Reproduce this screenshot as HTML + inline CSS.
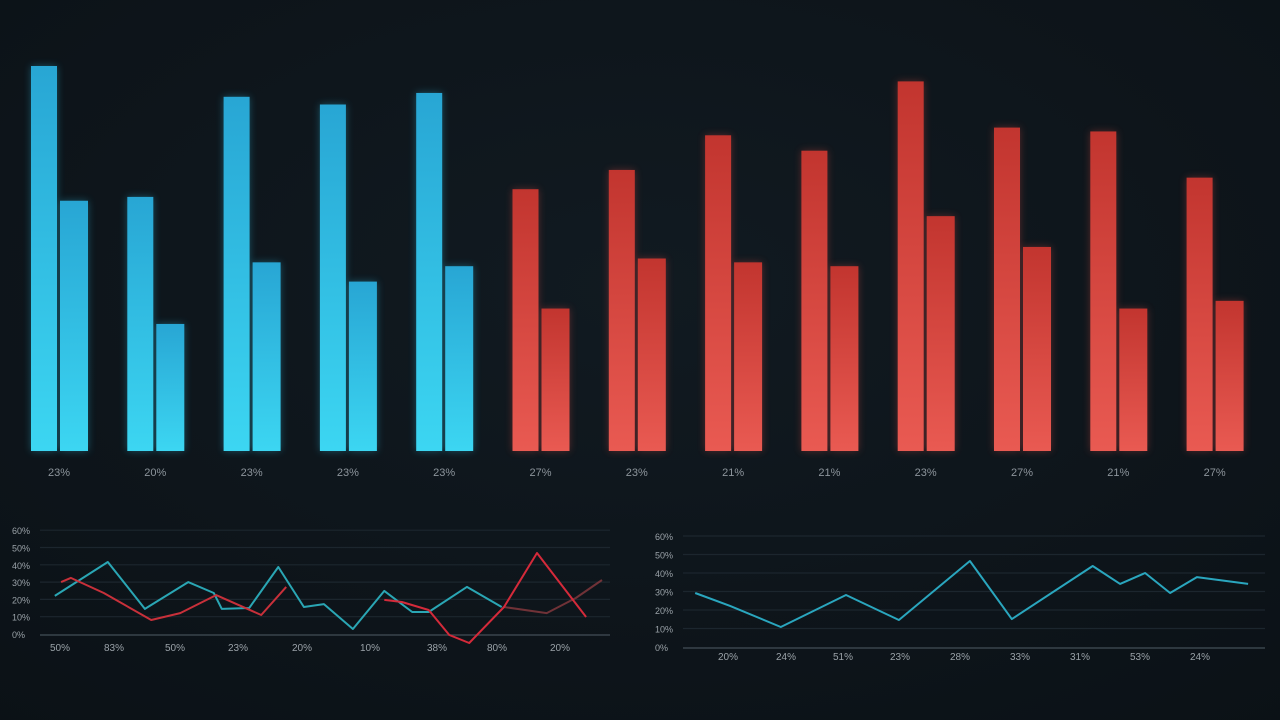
<!DOCTYPE html>
<html><head><meta charset="utf-8">
<style>
html,body{margin:0;padding:0;background:#0d141a;}
svg{display:block;font-family:"Liberation Sans",sans-serif;}
</style></head>
<body>
<svg id="c" width="1280" height="720" viewBox="0 0 1280 720" xmlns="http://www.w3.org/2000/svg">
<defs>
<linearGradient id="gb" x1="0" y1="0" x2="0" y2="1"><stop offset="0" stop-color="#28a6d4"/><stop offset="1" stop-color="#3cd6f2"/></linearGradient>
<linearGradient id="gr" x1="0" y1="0" x2="0" y2="1"><stop offset="0" stop-color="#c2352f"/><stop offset="1" stop-color="#e95a52"/></linearGradient>
<radialGradient id="bg" cx="0.5" cy="0.4" r="0.8"><stop offset="0" stop-color="#111a21"/><stop offset="1" stop-color="#0b1116"/></radialGradient>
<filter id="glow" x="-30%" y="-10%" width="160%" height="120%"><feGaussianBlur stdDeviation="4"/></filter>
</defs>
<rect width="1280" height="720" fill="url(#bg)"/>
<g id="bars"></g>
<g id="left"></g>
<g id="right"></g>
</svg>
<script>
// Bar chart data
const barGroups = ['23%','20%','23%','23%','23%','27%','23%','21%','21%','23%','27%','21%','27%'];
const barTall = [100,66,92,90,93,68,73,82,78,96,84,83,71];
const barShort = [65,33,49,44,48,37,50,49,48,61,53,37,39];
const barColorSplit = 5;
// Left line chart data
const leftYTicks = ['0%','10%','20%','30%','40%','50%','60%'];
const leftXLabels = ['50%','83%','50%','23%','20%','10%','38%','80%','20%'];
const tealX = [2.6,11.9,18.4,26,30.5,31.9,36.7,41.8,46.3,49.8,54.9,60.4,65.3,68.2,74.9,81];
const tealV = [22,41.6,14.5,30,23.7,14.5,15,38.7,15.6,17.3,2.9,24.9,12.7,12.7,27.2,15.6];
const red1X = [3.7,5.4,11.2,19.5,24.6,30.9,38.8,43.2];
const red1V = [30,32.4,23.7,8.1,12.1,22.5,11,27.2];
const red2X = [60.4,63.5,68.2,71.8,75.3,81.4,87.2,95.8];
const red2V = [19.7,18.5,13.9,-0.6,-5.2,15.6,46.8,9.8];
const red3X = [81.4,88.9,94,98.6];
const red3V = [15.6,12.1,20.8,31.2];
// Right line chart data
const rightYTicks = ['0%','10%','20%','30%','40%','50%','60%'];
const rightXLabels = ['20%','24%','51%','23%','28%','33%','31%','53%','24%'];
const rightX = [2.1,8.1,16.8,28,37.1,49.3,56.5,70.4,75.1,79.4,83.7,88.3,97.1];
const rightV = [29.2,22.2,10.8,28.1,14.6,46.5,15.1,43.8,34.1,40,29.2,37.8,34.1];

const NS='http://www.w3.org/2000/svg';
function mk(tag,attrs,parent){const e=document.createElementNS(NS,tag);for(const k in attrs)e.setAttribute(k,attrs[k]);parent.appendChild(e);return e;}

// Bars
const bars=document.getElementById('bars');
const base=451, hScale=v=>v*3.85, gx=i=>31+i*96.3;
barGroups.forEach((lab,i)=>{
  const x=gx(i), blue=i<barColorSplit, f=blue?'url(#gb)':'url(#gr)', gc=blue?'#2ec4ea':'#e04a42';
  const h1=hScale(barTall[i]), h2=hScale(barShort[i]);
  const g1=mk('rect',{x:x,y:base-h1,width:26,height:h1,fill:gc,opacity:0.35,filter:'url(#glow)'},bars);
  
  
  const g2=mk('rect',{x:x+29,y:base-h2,width:28,height:h2,fill:gc,opacity:0.35,filter:'url(#glow)'},bars);
  
  
  const r1=mk('rect',{x:x,y:base-h1,width:26,height:h1,fill:f},bars);
  
  
  const r2=mk('rect',{x:x+29,y:base-h2,width:28,height:h2,fill:f},bars);
  
  
  const t=mk('text',{x:x+28,y:476,'text-anchor':'middle','font-size':11,fill:'#8d959c'},bars);
  t.textContent=lab;
  
  
});

function lineChart(gid,x0,x1,y0,pxPer10,yTicks,xLabels,labX,labY,series,tickX){
  const g=document.getElementById(gid);
  const sx=d=>x0+(x1-x0)*d/100, sy=v=>y0-v*pxPer10/10;
  yTicks.forEach((t,i)=>{
    const y=sy(i*10);
    if(i>0){const l=mk('line',{x1:x0,x2:x1,y1:y,y2:y,stroke:'#1c262e','stroke-width':1.2},g);
    
    }
    const tx=mk('text',{x:tickX,y:y+4,'font-size':9,fill:'#9aa2a8'},g);
    tx.textContent=t;
    
    
  });
  const ax=mk('line',{x1:x0,x2:x1,y1:y0+1,y2:y0+1,stroke:'#3a444c','stroke-width':1.5},g);
  
  
  xLabels.forEach((t,i)=>{
    const tx=mk('text',{x:labX[i],y:labY,'text-anchor':'middle','font-size':10,fill:'#9aa2a8'},g);
    tx.textContent=t;
    
    
  });
  series.forEach(s=>{
    const pts=s.x.map((d,i)=>sx(d).toFixed(1)+','+sy(s.v[i]).toFixed(1)).join(' ');
    const p=mk('polyline',{points:pts,fill:'none',stroke:s.c,'stroke-width':2,'stroke-linejoin':'round',opacity:s.o||1},g);
    
    
  });
}
lineChart('left',40,610,634,17.3,leftYTicks,leftXLabels,[60,114,175,238,302,370,437,497,560],651,
 [{x:red3X,v:red3V,c:'#8a3a3e',o:0.8,n:'line-red-dim'},
  {x:tealX,v:tealV,c:'#2aa6b4',n:'line-teal'},
  {x:red1X,v:red1V,c:'#c8303a',n:'line-red-a'},
  {x:red2X,v:red2V,c:'#d42a3a',n:'line-red-b'}],12);
lineChart('right',683,1265,647,18.5,rightYTicks,rightXLabels,[728,786,843,900,960,1020,1080,1140,1200],660,
 [{x:rightX,v:rightV,c:'#2aa6be',n:'line-teal-right'}],655);
</script>
</body></html>
